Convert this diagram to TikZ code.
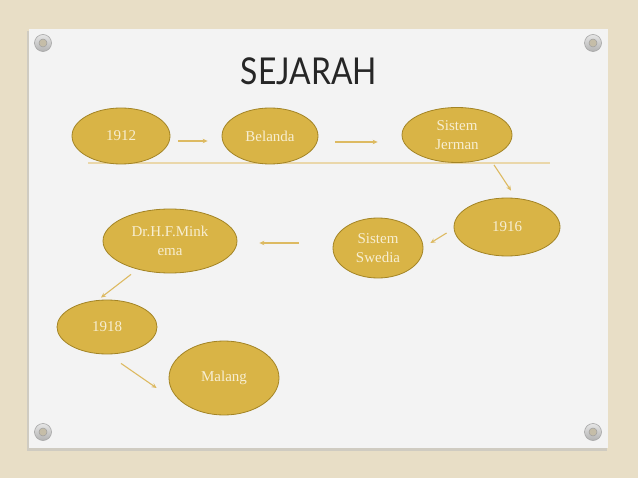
\documentclass[tikz,border=0pt]{standalone}
\usepackage{fontspec}
\setmainfont{Liberation Serif}
\newfontfamily\titlefont[FakeStretch=0.86]{Lato}
\usetikzlibrary{shapes.geometric,calc,arrows.meta}
\definecolor{cork}{HTML}{E8DEC6}
\definecolor{card}{HTML}{F3F3F3}
\definecolor{gold}{HTML}{D9B446}
\definecolor{golddark}{HTML}{A38425}
\definecolor{cream}{HTML}{F7EED2}
\definecolor{arrowgold}{HTML}{DDBA62}
\definecolor{linegold}{HTML}{EAD7AA}
\tikzset{
  evt/.style={ellipse, draw=golddark, line width=0.8bp, fill=gold, inner sep=0pt,
    text=cream, align=center, font=\fontsize{15bp}{18.5bp}\selectfont},
  arr/.style={draw=arrowgold, line width=1.1bp, -{Stealth[length=5bp,width=4.5bp]}},
  screw/.style={circle, minimum size=17bp, inner sep=0pt, draw=gray!70, line width=0.6bp,
    top color=gray!20, bottom color=gray!60},
  screwin/.style={circle, minimum size=8bp, inner sep=0pt, draw=gray!75, line width=0.5bp, fill=black!15!cork}
}
\begin{document}
\begin{tikzpicture}[x=1bp,y=-1bp]
\useasboundingbox (0,0) rectangle (638,478);
\fill[cork] (0,0) rectangle (638,478);
% card shadow and card
\fill[black!25,opacity=0.6] (27,31) rectangle (607,451);
\fill[card] (29,29) rectangle (608,448);
% screws
\foreach \n/\px/\py in {a/43/43, b/593/43, c/43/432, d/593/432}{
  \node[screw] (s\n) at (\px,\py) {};
  \node[screwin] (si\n) at (s\n) {};
}
% title
\node[anchor=base, font=\titlefont\fontsize{37bp}{40bp}\selectfont, text=black!85, inner sep=0pt] (title) at (309,85) {SEJARAH};
% rule line
\coordinate (la) at (88,163);
\coordinate (lb) at (550,163);
\draw[linegold, line width=1.4bp] (la) -- (lb);
% events
\node[evt, minimum width=98bp, minimum height=56bp] (n1912) at (121,136) {1912};
\node[evt, minimum width=96bp, minimum height=56bp] (belanda) at (270,136) {Belanda};
\node[evt, minimum width=110bp, minimum height=55bp] (jerman) at (457,135) {Sistem\\Jerman};
\node[evt, minimum width=106bp, minimum height=58bp] (n1916) at (507,227) {1916};
\node[evt, minimum width=90bp, minimum height=60bp] (swedia) at (378,248) {Sistem\\Swedia};
\node[evt, minimum width=134bp, minimum height=64bp] (dr) at (170,241) {Dr.H.F.Mink\\ema};
\node[evt, minimum width=100bp, minimum height=54bp] (n1918) at (107,327) {1918};
\node[evt, minimum width=110bp, minimum height=74bp] (malang) at (224,378) {Malang};
% arrows
\draw[arr] ($(n1912.east)+(8,5)$) -- ($(belanda.west)+(-14,5)$);
\draw[arr] ($(belanda.east)+(17,6)$) -- ($(jerman.west)+(-24,7)$);
\draw[arr] ($(jerman.south)+(37,2)$) -- ($(n1916.north)+(4,-7)$);
\draw[arr] ($(n1916.west)+(-7,6)$) -- ($(swedia.east)+(7,-5)$);
\draw[arr] ($(swedia.west)+(-34,-5)$) -- ($(dr.east)+(22,2)$);
\draw[arr] ($(dr.south)+(-39,1)$) -- ($(n1918.north)+(-6,-2)$);
\draw[arr] ($(n1918.south)+(14,9)$) -- ($(malang.west)+(-12,10)$);
\end{tikzpicture}
\end{document}
